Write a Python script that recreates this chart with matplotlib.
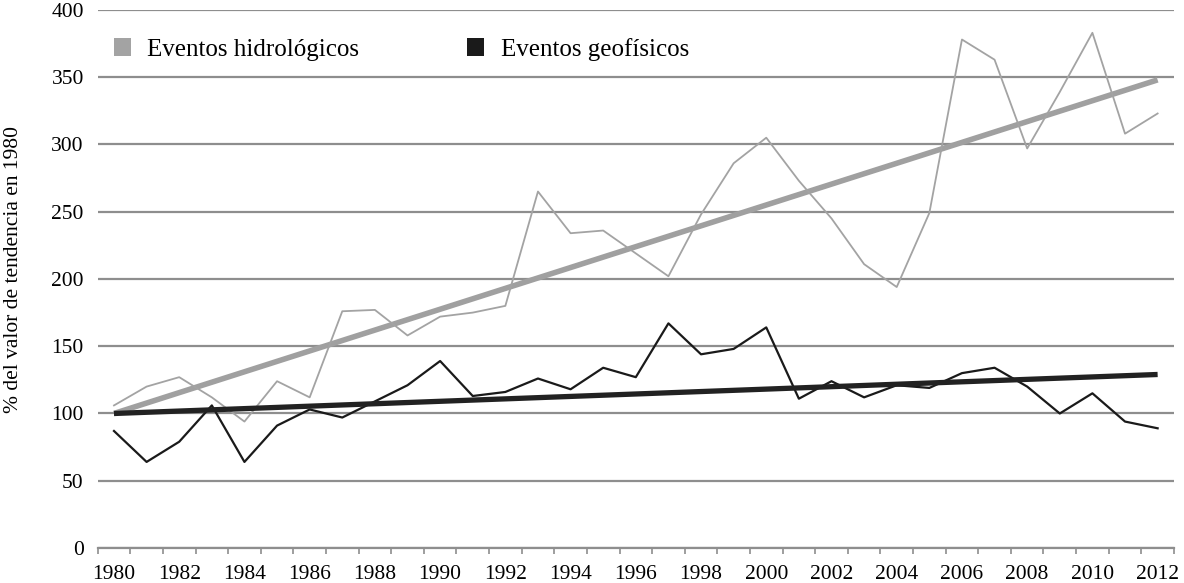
import matplotlib
matplotlib.use("Agg")
import matplotlib.pyplot as plt
from matplotlib.patches import Patch
import numpy as np

years = list(range(1980, 2013))
hidro = [106, 120, 127, 112, 94, 124, 112, 176, 177, 158, 172, 175, 180, 265, 234, 236, 219, 202,
         248, 286, 305, 273, 245, 211, 194, 249, 378, 363, 297, 339, 383, 308, 323]
geo = [87, 64, 79, 106, 64, 91, 103, 97, 109, 121, 139, 113, 116, 126, 118, 134, 127, 167,
       144, 148, 164, 111, 124, 112, 121, 119, 130, 134, 120, 100, 115, 94, 89]
trend_years = [1980, 2012]
trend_hidro = [100, 348]
trend_geo = [100, 129]
tick_years = list(range(1980, 2013, 2))
y_ticks = list(range(0, 401, 50))

plt.rcParams['font.family'] = ['Liberation Serif', 'DejaVu Serif']

fig = plt.figure(figsize=(11.84, 5.83), dpi=100)
ax = fig.add_axes([0.0825, 0.060, 0.909, 0.923])

grid_c = '#8e8e8e'
for v in y_ticks:
    ax.axhline(v, color=grid_c, lw=1.6, zorder=1)

ax.plot(years, hidro, color='#a3a3a3', lw=1.3, zorder=3)
ax.plot(years, geo, color='#1a1a1a', lw=1.6, zorder=4)
ax.plot(trend_years, trend_hidro, color='#a0a0a0', lw=4.0, zorder=2, solid_capstyle='butt')
ax.plot(trend_years, trend_geo, color='#222222', lw=3.8, zorder=5, solid_capstyle='butt')

ax.set_xlim(1979.5, 2012.5)
ax.set_ylim(0, 400)
ax.set_xticks(tick_years)
ax.set_xticklabels([str(y) for y in tick_years], fontsize=15.5)
ax.set_xticks(np.arange(1979.5, 2013, 1), minor=True)
ax.tick_params(axis='x', which='major', length=0, pad=12)
ax.tick_params(axis='x', which='minor', length=4, width=1.2, color=grid_c)
ax.set_yticks(y_ticks)
ax.set_yticklabels([str(v) for v in y_ticks], fontsize=15.5)
ax.tick_params(axis='y', length=0, pad=10)

for s in ['left', 'right', 'top']:
    ax.spines[s].set_visible(False)
ax.spines['bottom'].set_color(grid_c)
ax.spines['bottom'].set_linewidth(1.6)

ax.set_ylabel('% del valor de tendencia en 1980', fontsize=15.5)
ax.yaxis.set_label_coords(-0.069, 0.517)

handles = [Patch(facecolor='#a3a3a3', edgecolor='none'), Patch(facecolor='#1a1a1a', edgecolor='none')]
ax.legend(handles, ['Eventos hidrológicos', 'Eventos geofísicos'], ncol=2, frameon=False,
          loc='center left', bbox_to_anchor=(-0.006, 0.927), fontsize=18,
          handlelength=0.7, handleheight=0.7, handletextpad=0.65, columnspacing=4.3)

fig.savefig('out.png', dpi=100)
